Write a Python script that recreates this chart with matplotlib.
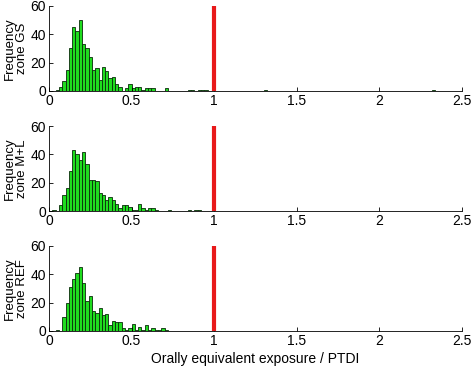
import matplotlib
matplotlib.use("Agg")
import matplotlib.pyplot as plt
import numpy as np

plt.rcParams['font.family'] = ['Liberation Sans', 'DejaVu Sans']

BIN_WIDTH = 0.02

# zone GS: left edges of bins and counts
gs_left = [0.04, 0.06, 0.08, 0.10, 0.12, 0.14, 0.16, 0.18, 0.20, 0.22,
           0.24, 0.26, 0.28, 0.30, 0.32, 0.34, 0.36, 0.38, 0.40, 0.42,
           0.46, 0.48, 0.50, 0.52, 0.54, 0.56, 0.58, 0.60, 0.62, 0.70,
           0.84, 0.86, 0.90, 0.92, 0.94, 1.30, 2.32]
gs_counts = [1, 3, 7, 15, 30, 45, 42, 50, 33, 30,
             24, 15, 16, 8, 17, 14, 9, 10, 5, 3,
             2, 5, 2, 3, 3, 1, 2, 2, 2, 2,
             1, 1, 1, 1, 1, 1, 1]

# zone M+L
ml_left = [0.02, 0.06, 0.08, 0.10, 0.12, 0.14, 0.16, 0.18, 0.20, 0.22,
           0.24, 0.26, 0.28, 0.30, 0.32, 0.34, 0.36, 0.38, 0.40, 0.42,
           0.44, 0.46, 0.48, 0.50, 0.52, 0.54, 0.56, 0.58, 0.60, 0.62,
           0.64, 0.72, 0.84, 0.88, 0.90]
ml_counts = [1, 4, 11, 16, 28, 43, 40, 36, 42, 33,
             22, 22, 21, 13, 11, 8, 10, 8, 5, 2,
             4, 4, 3, 1, 1, 5, 2, 1, 2, 2,
             1, 1, 1, 1, 1]

# zone REF
ref_left = [0.04, 0.08, 0.10, 0.12, 0.14, 0.16, 0.18, 0.20, 0.22, 0.24,
            0.26, 0.28, 0.30, 0.32, 0.34, 0.36, 0.38, 0.40, 0.42, 0.44,
            0.46, 0.48, 0.50, 0.52, 0.54, 0.56, 0.58, 0.60, 0.62, 0.64,
            0.66, 0.68, 0.70]
ref_counts = [1, 10, 20, 31, 37, 41, 45, 34, 21, 25,
              14, 13, 16, 11, 12, 4, 7, 6, 6, 2,
              1, 2, 5, 1, 3, 1, 4, 1, 2, 1,
              1, 2, 1]

zones = ["GS", "M+L", "REF"]
lefts = [gs_left, ml_left, ref_left]
counts = [gs_counts, ml_counts, ref_counts]

PTDI_RATIO = 1.0
PTDI_LINE_TOP = 60

xticks = [0, 0.5, 1, 1.5, 2, 2.5]
xtick_labels = ["0", "0.5", "1", "1.5", "2", "2.5"]
yticks = [0, 20, 40, 60]

fig = plt.figure(figsize=(4.74, 3.69), dpi=100)
bottoms = [0.7534, 0.428, 0.103]
for zone, lft, cnt, b in zip(zones, lefts, counts, bottoms):
    ax = fig.add_axes([0.1034, b, 0.871, 0.2304])
    ax.bar(lft, cnt, width=BIN_WIDTH, align='edge', color='#1fdc1f',
           edgecolor='#0a2a0a', linewidth=0.6)
    ax.plot([PTDI_RATIO, PTDI_RATIO], [0, PTDI_LINE_TOP], color='#e8191a',
            linewidth=3, solid_capstyle='butt')
    ax.set_xlim(0, 2.5)
    ax.set_ylim(0, 60)
    ax.set_xticks(xticks)
    ax.set_xticklabels(xtick_labels)
    ax.set_yticks(yticks)
    ax.tick_params(direction='in', length=3, labelsize=10, width=0.6, pad=2)
    for s in ['top', 'right']:
        ax.spines[s].set_visible(False)
    for s in ['left', 'bottom']:
        ax.spines[s].set_linewidth(0.6)
    ax.set_ylabel("Frequency\nzone " + zone, fontsize=9.5, linespacing=1.0)
    ax.yaxis.set_label_coords(-0.05, 0.5)
    if zone == "REF":
        ax.set_xlabel("Orally equivalent exposure / PTDI", fontsize=10,
                      labelpad=3)

fig.savefig("out.png", dpi=100)
